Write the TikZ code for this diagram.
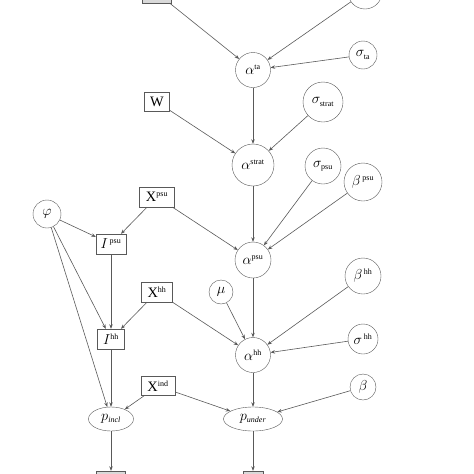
\documentclass[tikz,border=0pt]{standalone}
\usepackage{amsmath}
\usepackage{fontspec}
\setmainfont{Liberation Serif}
\usetikzlibrary{shapes.geometric,arrows.meta}
\newcommand{\idx}[1]{\text{\fontsize{8}{8}\selectfont #1}}

\begin{document}
\begin{tikzpicture}[x=1pt,y=-1pt,
    every node/.style={font=\Large},
    var/.style={draw=black!65, circle, inner sep=0pt},
    obs/.style={draw=black!65, rectangle, inner sep=0pt, minimum height=20pt},
    data/.style={obs, fill=gray!30},
    prob/.style={draw=black!65, ellipse, inner sep=0pt, minimum height=24pt},
    edge/.style={draw=black!65, line width=0.6pt, -{Stealth[length=4.5pt,width=3.5pt]}}]
    \useasboundingbox (0,0) rectangle (474,474);
    \clip (0,0) rectangle (474,474);

    % Top level (cut by the frame)
    \node[data, minimum width=29pt] (top) at (157,-7) {};
    \node[var, minimum size=34pt] (toppar) at (365,-8) {};

    % Area level
    \node[var, minimum size=35pt] (ata) at (253,70) {$\alpha^{\idx{ta}}$};
    \node[var, minimum size=28pt] (sta) at (363,55) {$\sigma_{\idx{ta}}$};

    % Stratum level
    \node[obs, minimum width=25pt, minimum height=19pt] (W) at (157,102) {W};
    \node[var, minimum size=40pt] (sstrat) at (323,102) {$\sigma_{\idx{strat}}$};
    \node[var, minimum size=42pt] (astrat) at (253,165) {$\alpha^{\idx{strat}}$};

    % PSU level
    \node[var, minimum size=36pt] (spsu) at (323,166) {$\sigma_{\idx{psu}}$};
    \node[var, minimum size=38pt] (bpsu) at (363,182) {$\beta^{\,\idx{psu}}$};
    \node[obs, minimum width=35pt] (Xpsu) at (157,197) {$\mathrm{X}^{\idx{psu}}$};
    \node[var, minimum size=28pt] (phi) at (47,214) {$\varphi$};
    \node[obs, minimum width=30pt] (Ipsu) at (111,244) {$I^{\,\idx{psu}}$};
    \node[var, minimum size=36pt] (apsu) at (253,260) {$\alpha^{\idx{psu}}$};

    % Household level
    \node[var, minimum size=36pt] (bhh) at (363,276) {$\beta^{\,\idx{hh}}$};
    \node[obs, minimum width=31pt] (Xhh) at (157,292) {$\mathrm{X}^{\idx{hh}}$};
    \node[var, minimum size=24pt] (mu) at (221,292) {$\mu$};
    \node[obs, minimum width=27pt] (Ihh) at (111,339) {$I^{\idx{hh}}$};
    \node[var, minimum size=30pt] (shh) at (363,339) {$\sigma^{\,\idx{hh}}$};
    \node[var, minimum size=35pt] (ahh) at (253,355) {$\alpha^{\idx{hh}}$};

    % Individual level
    \node[obs, minimum width=34pt, minimum height=19pt] (Xind) at (158,386) {$\mathrm{X}^{\idx{ind}}$};
    \node[var, minimum size=26pt] (beta) at (363,387) {$\beta$};
    \node[prob, minimum width=45pt] (pincl) at (111,419) {$p_{\idx{\itshape incl}}$};
    \node[prob, minimum width=59pt] (punder) at (253,419) {$p_{\idx{\itshape under}}$};

    % Bottom boxes (cut by the frame)
    \node[data, minimum width=29pt] (yincl) at (111,481) {};
    \node[data, minimum width=20pt] (yunder) at (253,481) {};

    % Arrows into the alphas
    \draw[edge] (top) -- (ata);
    \draw[edge] (toppar) -- (ata);
    \draw[edge] (sta) -- (ata);
    \draw[edge] (ata) -- (astrat);
    \draw[edge] (W) -- (astrat);
    \draw[edge] (sstrat) -- (astrat);
    \draw[edge] (astrat) -- (apsu);
    \draw[edge] (spsu) -- (apsu);
    \draw[edge] (bpsu) -- (apsu);
    \draw[edge] (Xpsu) -- (apsu);
    \draw[edge] (apsu) -- (ahh);
    \draw[edge] (Xhh) -- (ahh);
    \draw[edge] (mu) -- (ahh);
    \draw[edge] (bhh) -- (ahh);
    \draw[edge] (shh) -- (ahh);

    % Inclusion side
    \draw[edge] (Xpsu) -- (Ipsu);
    \draw[edge] (phi) -- (Ipsu);
    \draw[edge] (phi) -- (Ihh);
    \draw[edge] (phi) -- (pincl);
    \draw[edge] (Ipsu) -- (Ihh);
    \draw[edge] (Xhh) -- (Ihh);
    \draw[edge] (Ihh) -- (pincl);
    \draw[edge] (Xind) -- (pincl);

    % Under-reporting side
    \draw[edge] (Xind) -- (punder);
    \draw[edge] (ahh) -- (punder);
    \draw[edge] (beta) -- (punder);

    % Outcomes
    \draw[edge] (pincl) -- (yincl);
    \draw[edge] (punder) -- (yunder);
\end{tikzpicture}
\end{document}
